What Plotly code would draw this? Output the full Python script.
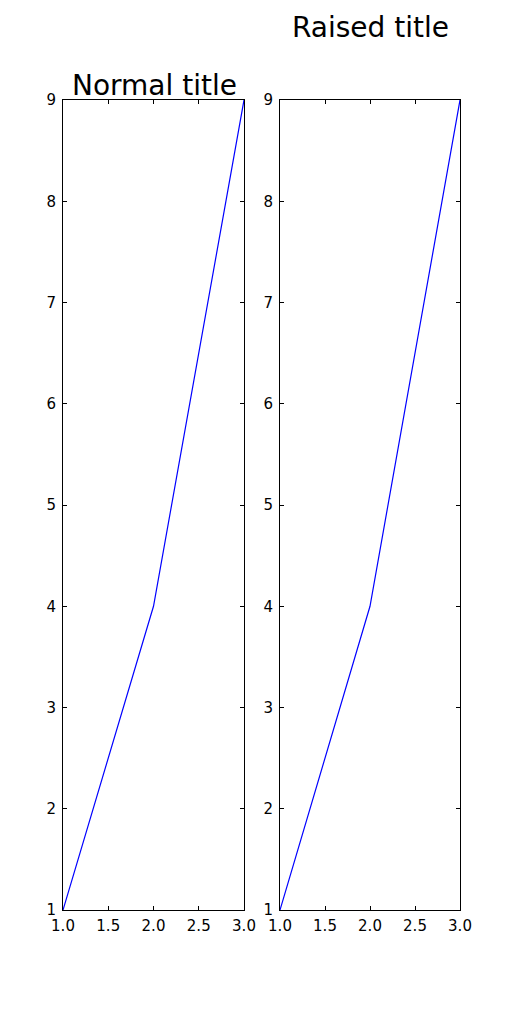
import plotly.graph_objects as go
from plotly.subplots import make_subplots

# Data for both panels (same curve)
x_vals = [1, 2, 3]
y_vals = [1, 4, 9]
x_ticks = [1.0, 1.5, 2.0, 2.5, 3.0]
x_tick_labels = ["1.0", "1.5", "2.0", "2.5", "3.0"]
y_ticks = [1, 2, 3, 4, 5, 6, 7, 8, 9]
titles = ["Normal title", "Raised title"]

W, H = 512, 1012
OFF = 8  # page body margin shifts the figure by this many pixels


def px_x(p):
    return (p - OFF) / W


def px_y(p):
    return (H - (p - OFF)) / H


fig = make_subplots(rows=1, cols=2)

for col in (1, 2):
    fig.add_trace(go.Scatter(
        x=x_vals, y=y_vals, mode="lines",
        line=dict(color="#0000ff", width=1.2),
        showlegend=False, hoverinfo="skip"
    ), row=1, col=col)

axis_style = dict(
    showgrid=False, zeroline=False, automargin=False,
    showline=True, linecolor="black", linewidth=1, mirror="ticks",
    ticks="inside", ticklen=4, tickwidth=1, tickcolor="black",
    tickfont=dict(family="DejaVu Sans", size=15, color="black"),
)

x_doms = [(px_x(63), px_x(244)), (px_x(280), px_x(460))]
y_dom = (px_y(910), px_y(100))

for i, col in enumerate((1, 2)):
    fig.update_xaxes(range=[1, 3], tickvals=x_ticks, ticktext=x_tick_labels,
                     domain=x_doms[i], ticklabelstandoff=2, **axis_style, row=1, col=col)
    fig.update_yaxes(range=[1, 9], tickvals=y_ticks, domain=y_dom,
                     ticklabelstandoff=3, **axis_style, row=1, col=col)

# titles: first sits on the axes, second is raised
title_pos = [(px_x(154), px_y(85)), (px_x(370), px_y(27))]
for t, (tx, ty) in zip(titles, title_pos):
    fig.add_annotation(text=t, x=tx, y=ty, xref="paper", yref="paper",
                       showarrow=False, xanchor="center", yanchor="middle",
                       font=dict(family="DejaVu Sans", size=28, color="black"))

fig.update_layout(
    width=W, height=H,
    margin=dict(l=0, r=0, t=0, b=0, autoexpand=False),
    plot_bgcolor="white", paper_bgcolor="white",
)

fig.write_html("out.html")
